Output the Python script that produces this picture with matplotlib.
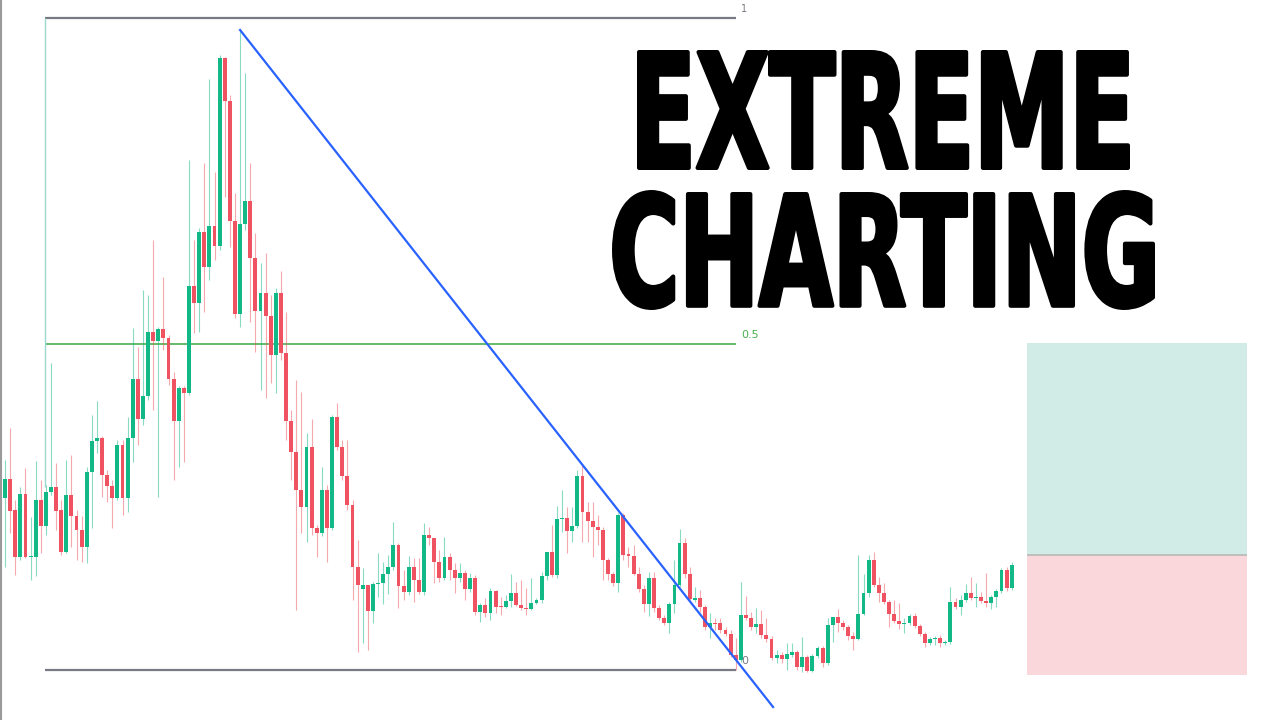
import matplotlib
matplotlib.use("Agg")
import matplotlib.pyplot as plt
from matplotlib.patches import Rectangle
from matplotlib.transforms import Affine2D
import matplotlib.patheffects as pe

# OHLC (price units: fib 0 level = 0, fib 1 level = 652)
opens = [172, 191, 160, 113, 176, 113, 113, 170, 144, 178, 183, 160, 118, 175, 154, 140, 123, 198, 229, 232,
         195, 184, 172, 225, 172, 232, 291, 251, 274, 338, 329, 341, 332, 291, 249, 282, 277, 384, 367, 438,
         403, 444, 424, 612, 569, 449, 356, 446, 469, 412, 359, 377, 354, 315, 377, 317, 249, 218, 180, 163,
         223, 142, 137, 180, 142, 253, 223, 194, 165, 103, 81, 85, 59, 86, 87, 96, 103, 125, 84, 78,
         103, 90, 78, 135, 132, 108, 92, 113, 100, 92, 97, 81, 92, 58, 65, 57, 79, 64, 63, 69,
         77, 65, 62, 61, 67, 70, 94, 118, 95, 151, 152, 139, 144, 194, 158, 149, 143, 140, 110, 96,
         87, 155, 116, 114, 96, 81, 66, 92, 62, 52, 47, 66, 85, 127, 96, 70, 72, 63, 43, 47,
         47, 40, 36, 15, 10, 55, 52, 43, 46, 35, 31, 12, 15, 11, 15, 18, 3, 13, -1, 14,
         22, 7, 45, 53, 47, 43, 34, 31, 56, 77, 110, 85, 77, 68, 56, 49, 46, 47, 54, 44,
         36, 27, 31, 32, 27, 28, 68, 63, 70, 77, 72, 73, 69, 67, 73, 79, 100, 82]
highs = [210, 242, 170, 183, 202, 153, 209, 190, 185, 307, 207, 170, 210, 215, 160, 154, 203, 255, 269, 234,
         200, 190, 230, 230, 253, 342, 323, 380, 375, 430, 343, 393, 335, 298, 284, 284, 510, 430, 442, 507,
         591, 498, 615, 613, 575, 477, 641, 597, 507, 437, 407, 417, 375, 382, 399, 358, 260, 290, 278, 237,
         251, 145, 203, 185, 255, 267, 230, 230, 170, 130, 102, 85, 88, 117, 108, 115, 148, 127, 100, 114,
         112, 112, 147, 143, 132, 120, 133, 117, 107, 107, 100, 97, 95, 67, 72, 82, 80, 73, 75, 96,
         88, 90, 82, 92, 72, 98, 118, 145, 164, 180, 163, 163, 200, 205, 168, 168, 155, 143, 112, 98,
         157, 157, 123, 125, 103, 85, 98, 98, 65, 55, 68, 110, 141, 132, 103, 83, 80, 65, 57, 52,
         52, 43, 40, 32, 88, 74, 58, 62, 60, 52, 34, 20, 18, 27, 27, 20, 33, 15, 16, 24,
         24, 52, 53, 61, 50, 45, 38, 115, 96, 115, 118, 93, 87, 70, 70, 67, 52, 56, 57, 46,
         38, 33, 34, 35, 30, 83, 72, 75, 86, 93, 87, 78, 97, 75, 81, 102, 103, 108]
lows = [103, 137, 95, 110, 112, 90, 94, 117, 135, 175, 140, 115, 117, 123, 110, 108, 107, 142, 217, 173,
        168, 142, 170, 155, 158, 208, 225, 245, 270, 260, 173, 320, 285, 190, 203, 208, 275, 337, 338, 358,
        390, 410, 420, 473, 423, 352, 343, 440, 348, 318, 280, 272, 287, 277, 310, 230, 190, 60, 137, 128,
        135, 113, 134, 108, 140, 220, 190, 160, 70, 18, 27, 20, 47, 73, 66, 76, 100, 62, 70, 75,
        68, 76, 75, 125, 87, 88, 90, 90, 77, 88, 70, 78, 55, 48, 53, 50, 57, 55, 62, 63,
        64, 60, 55, 60, 66, 67, 90, 93, 92, 138, 117, 128, 142, 128, 128, 113, 125, 90, 90, 84,
        78, 110, 103, 95, 78, 58, 54, 58, 50, 45, 37, 57, 83, 92, 70, 68, 58, 40, 32, 40,
        37, 34, 13, 0, 8, 50, 40, 37, 32, 28, 10, 7, 7, 0, 13, 0, -2, -2, -2, 12,
        3, 5, 28, 38, 40, 30, 20, 30, 55, 73, 83, 68, 66, 43, 47, 41, 37, 45, 42, 34,
        23, 25, 25, 23, 25, 26, 61, 55, 68, 70, 63, 67, 63, 61, 63, 77, 79, 80]
closes = [191, 159, 113, 176, 113, 114, 170, 144, 178, 183, 159, 118, 175, 154, 140, 123, 198, 229, 232, 195,
          184, 172, 225, 172, 232, 291, 251, 274, 338, 329, 341, 332, 291, 249, 282, 277, 384, 367, 438, 403,
          444, 424, 612, 569, 449, 356, 446, 469, 412, 359, 377, 354, 315, 377, 317, 249, 218, 180, 163, 223,
          142, 137, 180, 142, 253, 223, 194, 165, 103, 85, 85, 59, 86, 87, 96, 103, 125, 84, 78, 103,
          90, 78, 135, 132, 108, 92, 113, 100, 92, 97, 81, 92, 58, 65, 57, 79, 63, 63, 69, 77,
          65, 62, 61, 67, 70, 94, 118, 95, 151, 152, 139, 144, 194, 158, 149, 143, 140, 110, 96, 87,
          155, 115, 114, 96, 81, 66, 92, 62, 52, 47, 66, 85, 127, 96, 71, 72, 63, 43, 47, 46,
          40, 36, 15, 10, 55, 52, 43, 46, 35, 31, 12, 15, 11, 16, 18, 3, 13, -1, 14, 22,
          7, 45, 53, 47, 43, 34, 31, 56, 77, 110, 85, 77, 68, 56, 49, 46, 47, 54, 44, 36,
          27, 31, 32, 27, 28, 68, 63, 70, 77, 72, 73, 69, 67, 73, 79, 100, 82, 105]

fib_levels = [1.0, 0.5, 0.0]
fib_labels = ["1", "0.5", "0"]
fib_low, fib_high = 0, 652
trend_start = (46, 640)
trend_end = (150.3, -37)
target_zone = (115, 327)
stop_zone = (-5, 115)
title_lines = ["EXTREME", "CHARTING"]

UP = "#12b886"
DOWN = "#ef5361"


class FitBox(pe.AbstractPathEffect):
    """Squeeze the glyph outline into a pixel box (thumbnail style heavy lettering)."""

    def __init__(self, box, stroke=4.0):
        super().__init__()
        self.box = box  # x0, y0, x1, y1 in display pixels
        self.stroke = stroke

    def draw_path(self, renderer, gc, tpath, affine, rgbFace=None):
        ext = tpath.transformed(affine).get_extents()
        x0, y0, x1, y1 = self.box
        pad = self.stroke * renderer.points_to_pixels(1) / 2
        sx = (x1 - x0 - 2 * pad) / ext.width
        sy = (y1 - y0 - 2 * pad) / ext.height
        fit = affine + Affine2D().translate(-ext.x0, -ext.y0).scale(sx, sy).translate(x0 + pad, y0 + pad)
        gc0 = renderer.new_gc()
        gc0.copy_properties(gc)
        gc0.set_linewidth(self.stroke)
        gc0.set_foreground("black")
        gc0.set_joinstyle("round")
        renderer.draw_path(gc0, tpath, fit, rgbFace)
        gc0.restore()


fig = plt.figure(figsize=(12.8, 7.2), dpi=100)
ax = fig.add_axes([0, 0, 1, 1])
ax.set_xlim(-0.98, 249.5)
ax.set_ylim(-50, 670)
ax.axis("off")

# fib retracement
fib_x0, fib_x1 = 7.8, 143.1
for lvl, lab in zip(fib_levels, fib_labels):
    y = fib_low + lvl * (fib_high - fib_low)
    col = "#4caf50" if lvl == 0.5 else "#787b86"
    lw = 1.2 if lvl == 0.5 else 1.6
    ax.hlines(y, fib_x0, fib_x1, color=col, lw=lw, zorder=1)
    ax.text(fib_x1 + 0.9, y + 9, lab, color=col, fontsize=7 if lvl == 1 else 8,
            ha="left", va="center", zorder=5)
ax.vlines(fib_x0, 183, fib_high, color="#9ad9cc", lw=1.0, zorder=1)

# candles
for i, (o, h, l, c) in enumerate(zip(opens, highs, lows, closes)):
    col = UP if c >= o else DOWN
    ax.vlines(i, l, h, color=col, lw=0.8, alpha=0.5, zorder=2)
    bottom = min(o, c)
    height = max(abs(c - o), 1.2)
    ax.add_patch(Rectangle((i - 0.38, bottom), 0.76, height, facecolor=col,
                           edgecolor="none", zorder=3))

# trend line
ax.plot([trend_start[0], trend_end[0]], [trend_start[1], trend_end[1]],
        color="#2962ff", lw=1.6, zorder=4)

# risk / reward box
bx0, bx1 = 200, 243
ax.add_patch(Rectangle((bx0, target_zone[0]), bx1 - bx0, target_zone[1] - target_zone[0],
                       facecolor="#d1ebe6", edgecolor="none", zorder=1))
ax.add_patch(Rectangle((bx0, stop_zone[0]), bx1 - bx0, stop_zone[1] - stop_zone[0],
                       facecolor="#f9d7da", edgecolor="none", zorder=1))
ax.hlines(target_zone[0], bx0, bx1, color="#b8b8b8", lw=1.2, zorder=2)

# left border
ax.axvline(-0.8, color="#9a9a9a", lw=1.5)

# title, boxes in display pixels (origin bottom-left)
title_boxes = [(637, 550, 1130, 670), (612, 410, 1155, 530)]
for txt, y, box in zip(title_lines, [560, 420], title_boxes):
    ax.text(171.8, y, txt, family="DejaVu Sans", fontweight="bold", fontstretch="condensed",
            fontsize=80, color="black", ha="center", va="center", zorder=6,
            path_effects=[FitBox(box, stroke=3.0)])

plt.savefig("out.png", dpi=100)
plt.close(fig)
